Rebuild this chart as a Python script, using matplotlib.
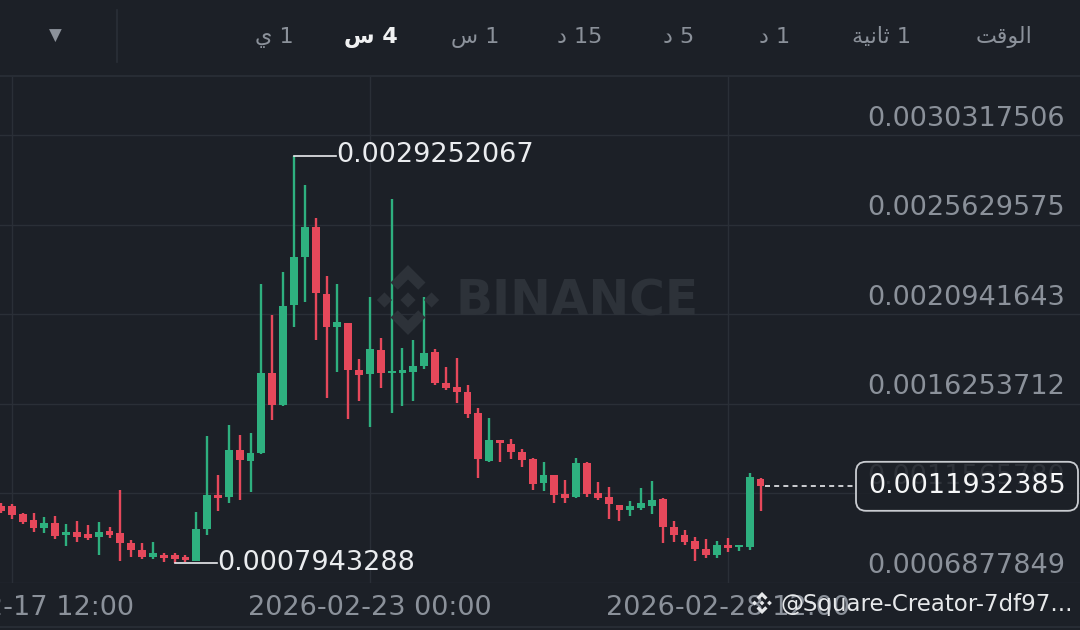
import re
import matplotlib
matplotlib.use('Agg')
import matplotlib.pyplot as plt
from matplotlib.patches import FancyBboxPatch, Polygon
from matplotlib.transforms import IdentityTransform
import numpy as np

W, H = 1080, 630

# 4h candles, first one = 2026-02-17 08:00
opens = [0.0010901, 0.0010901, 0.0010482, 0.0010168, 0.0009749, 0.0010011, 0.0009383, 0.0009540, 0.0009435, 0.0009278,
         0.0009592, 0.0009487, 0.0008964, 0.0008597, 0.0008231, 0.0008335, 0.0008335, 0.0008231, 0.0008021, 0.0009697,
         0.0011477, 0.0011372, 0.0013833, 0.0013257, 0.0013676, 0.0017864, 0.0016189, 0.0021424, 0.0023938, 0.0025508,
         0.0022000, 0.0020273, 0.0020482, 0.0018021, 0.0017812, 0.0019068, 0.0017864, 0.0017864, 0.0017917, 0.0018231,
         0.0018964, 0.0017341, 0.0017131, 0.0016869, 0.0015770, 0.0013257, 0.0014356, 0.0014147, 0.0013728, 0.0013362,
         0.0012105, 0.0012524, 0.0011529, 0.0011372, 0.0013152, 0.0011581, 0.0011372, 0.0010953, 0.0010691, 0.0010796,
         0.0010901, 0.0011267, 0.0009801, 0.0009383, 0.0009068, 0.0008650, 0.0008335, 0.0008859, 0.0008754, 0.0008754,
         0.0012315]
highs = [0.0011058, 0.0011006, 0.0010534, 0.0010534, 0.0010325, 0.0010377, 0.0009958, 0.0010116, 0.0009906, 0.0010063,
         0.0009801, 0.0011739, 0.0009121, 0.0008964, 0.0009016, 0.0008440, 0.0008440, 0.0008335, 0.0010587, 0.0014566,
         0.0012524, 0.0015142, 0.0014618, 0.0014723, 0.0022524, 0.0020901, 0.0023152, 0.0029252067, 0.0027707, 0.0025979,
         0.0022943, 0.0022524, 0.0020482, 0.0018597, 0.0021843, 0.0019697, 0.0026974, 0.0019173, 0.0019592, 0.0021843,
         0.0019121, 0.0018178, 0.0018650, 0.0017236, 0.0016032, 0.0015508, 0.0014356, 0.0014409, 0.0013885, 0.0013414,
         0.0013204, 0.0012524, 0.0012262, 0.0013414, 0.0013204, 0.0012157, 0.0011896, 0.0010953, 0.0011163, 0.0011843,
         0.0012210, 0.0011320, 0.0010116, 0.0009644, 0.0009278, 0.0009173, 0.0009068, 0.0009226, 0.0008859, 0.0012629,
         0.0012367]
lows = [0.0010534, 0.0010220, 0.0009958, 0.0009540, 0.0009487, 0.0009173, 0.0008807, 0.0009016, 0.0009121, 0.0008335,
        0.0009226, 0.0008021, 0.0008231, 0.0008126, 0.0008126, 0.0007969, 0.0007943288, 0.0007969, 0.0008000, 0.0009383,
        0.0010639, 0.0011058, 0.0011215, 0.0011634, 0.0013600, 0.0015404, 0.0016150, 0.0020273, 0.0021582, 0.0019592,
        0.0016555, 0.0017917, 0.0015456, 0.0016398, 0.0015037, 0.0017079, 0.0015770, 0.0016136, 0.0016398, 0.0018074,
        0.0017236, 0.0016974, 0.0016293, 0.0015508, 0.0012367, 0.0013204, 0.0013204, 0.0013362, 0.0012943, 0.0011739,
        0.0011686, 0.0011058, 0.0011058, 0.0011320, 0.0011372, 0.0011215, 0.0010220, 0.0010116, 0.0010377, 0.0010691,
        0.0010482, 0.0008964, 0.0009016, 0.0008859, 0.0008021, 0.0008178, 0.0008178, 0.0008492, 0.0008545, 0.0008597,
        0.0010639]
closes = [0.0010639, 0.0010430, 0.0010063, 0.0009749, 0.0010011, 0.0009330, 0.0009540, 0.0009278, 0.0009226, 0.0009540,
          0.0009383, 0.0008964, 0.0008597, 0.0008231, 0.0008440, 0.0008178, 0.0008126, 0.0008074, 0.0009697, 0.0011477,
          0.0011320, 0.0013833, 0.0013309, 0.0013676, 0.0017864, 0.0016189, 0.0021372, 0.0023938, 0.0025508, 0.0022053,
          0.0020273, 0.0020534, 0.0018021, 0.0017760, 0.0019121, 0.0017864, 0.0017969, 0.0018021, 0.0018231, 0.0018911,
          0.0017341, 0.0017079, 0.0016869, 0.0015718, 0.0013362, 0.0014356, 0.0014199, 0.0013728, 0.0013309, 0.0012053,
          0.0012524, 0.0011477, 0.0011320, 0.0013152, 0.0011529, 0.0011320, 0.0011006, 0.0010691, 0.0010901, 0.0011058,
          0.0011215, 0.0009801, 0.0009383, 0.0009016, 0.0008650, 0.0008335, 0.0008859, 0.0008702, 0.0008859, 0.0012419,
          0.0011932385]

price_ticks = [0.0006877849, 0.0011565780, 0.0016253712, 0.0020941643, 0.0025629575, 0.0030317506]
date_idx = [1, 34, 67]
date_labels = ['2026-02-17 12:00', '2026-02-23 00:00', '2026-02-28 12:00']

tabs = ['الوقت', '1 ثانية', '1 د', '5 د', '15 د', '1 س', '4 س', '1 ي']
tab_x = [1004, 881, 775, 679, 580, 475, 371, 274]
active_tab = '4 س'

BG = '#1c2027'
GRID = '#2a2f37'
GREY = '#8b919a'
TXT = '#eaecef'
UP = '#2eb07f'
DOWN = '#e6485b'

# matplotlib has no arabic shaping / bidi, do a tiny one by hand
AR_FORMS = {
    'ا': ('\ufe8d', '\ufe8e', None, None),
    'ة': ('\ufe93', '\ufe94', None, None),
    'د': ('\ufea9', '\ufeaa', None, None),
    'و': ('\ufeed', '\ufeee', None, None),
    'ت': ('\ufe95', '\ufe96', '\ufe97', '\ufe98'),
    'ث': ('\ufe99', '\ufe9a', '\ufe9b', '\ufe9c'),
    'س': ('\ufeb1', '\ufeb2', '\ufeb3', '\ufeb4'),
    'ق': ('\ufed5', '\ufed6', '\ufed7', '\ufed8'),
    'ل': ('\ufedd', '\ufede', '\ufedf', '\ufee0'),
    'ن': ('\ufee5', '\ufee6', '\ufee7', '\ufee8'),
    'ي': ('\ufef1', '\ufef2', '\ufef3', '\ufef4'),
}


def shape_ar(s):
    out = []
    for i, ch in enumerate(s):
        f = AR_FORMS.get(ch)
        if f is None:
            out.append(ch)
            continue
        prev = AR_FORMS.get(s[i - 1]) if i > 0 else None
        nxt = AR_FORMS.get(s[i + 1]) if i + 1 < len(s) else None
        jp = prev is not None and prev[2] is not None
        jn = nxt is not None and f[2] is not None
        if jp and jn:
            out.append(f[3])
        elif jn:
            out.append(f[2])
        elif jp:
            out.append(f[1])
        else:
            out.append(f[0])
    runs = re.findall(r'\d+|\D+', ''.join(out))
    return ''.join(r if r.isdigit() else r[::-1] for r in reversed(runs))


def fx(x):
    return x / W


def fy(y):
    return 1 - y / H


def logo(fig, cx, cy, r, color, z=1):
    # rough binance diamond logo, r = px per unit, y down
    shapes = [
        [(0, .2), (.2, 0), (0, -.2), (-.2, 0)],
        [(-.62, .2), (-.42, 0), (-.62, -.2), (-.82, 0)],
        [(.62, .2), (.82, 0), (.62, -.2), (.42, 0)],
        [(-.46, .46), (0, .92), (.46, .46), (.27, .27), (0, .54), (-.27, .27)],
        [(-.46, -.46), (0, -.92), (.46, -.46), (.27, -.27), (0, -.54), (-.27, -.27)],
    ]
    for pts in shapes:
        xy = [(cx + px * r, H - (cy - py * r)) for px, py in pts]
        fig.add_artist(Polygon(xy, closed=True, facecolor=color, edgecolor='none',
                               transform=IdentityTransform(), zorder=z))


fig = plt.figure(figsize=(W / 100, H / 100), dpi=100, facecolor=BG)

TOP, BOT = 77, 583
ax = fig.add_axes([0, fy(BOT), 1, (BOT - TOP) / H])
ax.set_facecolor(BG)

# pixel calibration of the reference
X0_PX, STEP_PX = 1, 10.85
Y_HI_PX, Y_LO_PX = 155.5, 562.5
p_hi, p_lo = max(highs), min(lows)
slope = (p_hi - p_lo) / (Y_LO_PX - Y_HI_PX)
ax.set_xlim(-X0_PX / STEP_PX, (W - X0_PX) / STEP_PX)
ax.set_ylim(p_hi - (BOT - Y_HI_PX) * slope, p_hi - (TOP - Y_HI_PX) * slope)

ax.set_yticks(price_ticks)
ax.set_xticks(date_idx)
ax.grid(True, color=GRID, lw=1)
ax.tick_params(length=0, labelleft=False, labelbottom=False)
for s in ax.spines.values():
    s.set_visible(False)

o = np.array(opens)
h = np.array(highs)
l = np.array(lows)
c = np.array(closes)
x = np.arange(len(o))
cols = np.where(c >= o, UP, DOWN)

ax.vlines(x, l, h, colors=cols, lw=1.7, zorder=3)
body = np.maximum(np.abs(c - o), 1.8 * slope)
ax.bar(x, body, bottom=np.minimum(o, c), width=0.72, color=cols, zorder=4, linewidth=0)

# watermark
fig.text(fx(455), fy(301), 'BINANCE', fontsize=35, fontweight='bold',
         color='#2d3239', ha='left', va='center', zorder=1)
logo(fig, 408, 300, 38, '#2d3239', z=0.5)

# price labels (above their gridline)
for t in price_ticks:
    ax.annotate(f'{t:.10f}', xy=(1065 / W, t), xycoords=('axes fraction', 'data'),
                xytext=(0, 16.5), textcoords='offset pixels', ha='right', va='center',
                fontsize=19.5, color=GREY, zorder=5)

# max / min markers
imax = int(np.argmax(h))
imin = int(np.argmin(l))
ax.plot([imax, imax + 3.9], [h[imax], h[imax]], color=TXT, lw=1.2, zorder=5)
ax.text(imax + 3.9, h[imax], f'{h[imax]:.10f}', fontsize=19.5, color=TXT, ha='left', va='center', zorder=5)
ax.plot([imin, imin + 3.9], [l[imin], l[imin]], color=TXT, lw=1.2, zorder=5)
ax.text(imin + 3.9, l[imin], f'{l[imin]:.10f}', fontsize=19.5, color=TXT, ha='left', va='center', zorder=5)

# last price
last = c[-1]
ax.plot([x[-1] + 0.4, (855 - X0_PX) / STEP_PX], [last, last], color=TXT, lw=1.2,
        ls=(0, (3, 2.5)), zorder=5)
y_last = Y_HI_PX + (p_hi - last) / slope
fig.add_artist(FancyBboxPatch((856, H - y_last - 24.5), 222, 49,
                              boxstyle='round,pad=0,rounding_size=10', transform=IdentityTransform(),
                              facecolor=BG, alpha=0.84, edgecolor='none', zorder=6))
fig.add_artist(FancyBboxPatch((856, H - y_last - 24.5), 222, 49,
                              boxstyle='round,pad=0,rounding_size=10', transform=IdentityTransform(),
                              facecolor='none', edgecolor='#c9ccd1', lw=1.3, zorder=6))
fig.text(fx(967), fy(y_last), f'{last:.10f}', fontsize=19.5, color='#f5f6f7',
         ha='center', va='center', zorder=7)

# header
fig.add_artist(plt.Line2D([0, 1], [fy(76), fy(76)], color=GRID, lw=1.2, transform=fig.transFigure))
fig.add_artist(plt.Line2D([fx(117), fx(117)], [fy(10), fy(62)], color=GRID, lw=1.2,
                          transform=fig.transFigure))
for lab, tx in zip(tabs, tab_x):
    on = lab == active_tab
    fig.text(fx(tx), fy(37), shape_ar(lab), fontsize=16, ha='center', va='center',
             color='#f0f1f2' if on else GREY, fontweight='bold' if on else 'normal')
fig.text(fx(55), fy(36), '▼', fontsize=12, ha='center', va='center', color=GREY)

# bottom time axis
fig.add_artist(plt.Line2D([0, 1], [fy(627), fy(627)], color=GRID, lw=1.2, transform=fig.transFigure))
for i, lab in zip(date_idx, date_labels):
    fig.text(fx(X0_PX + i * STEP_PX), fy(608), lab, fontsize=19.5, ha='center', va='center', color=GREY)

logo(fig, 762, 603, 12, '#e6e8ea', z=8)
fig.text(fx(781), fy(605), '@Square-Creator-7df97...', fontsize=16.5, ha='left', va='center',
         color='#e6e8ea', zorder=8)

fig.savefig('out.png', dpi=100, facecolor=BG)
